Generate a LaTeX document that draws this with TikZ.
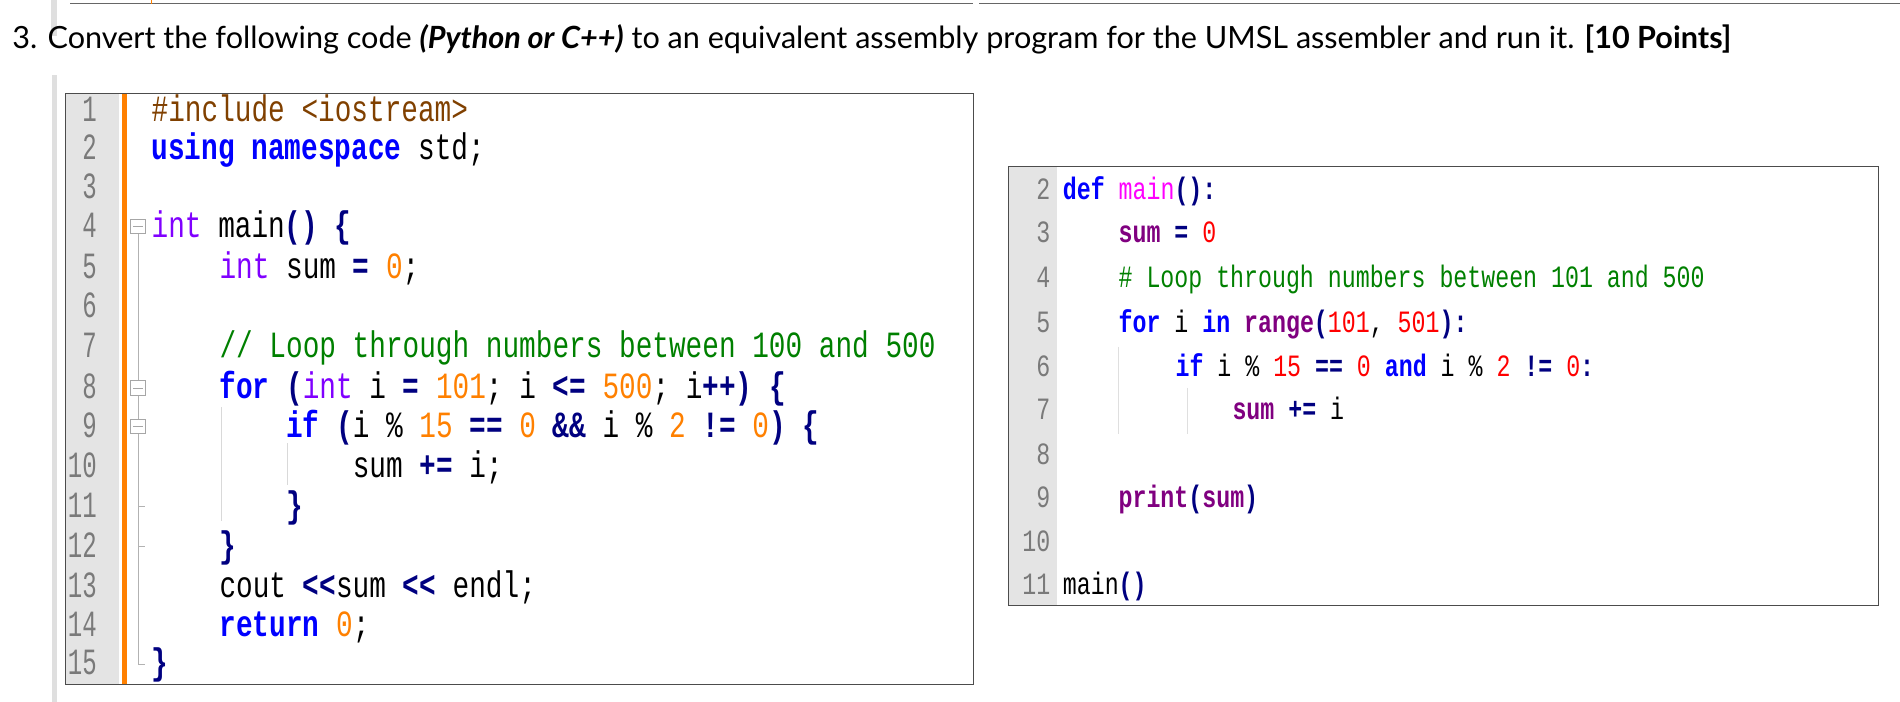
\documentclass[tikz,border=0pt]{standalone}
\usepackage{fontspec}
\setmainfont{Lato}
\newfontfamily\codef[FakeStretch=0.75]{Liberation Mono}
\newfontfamily\numf[FakeStretch=0.65]{Liberation Mono}
\definecolor{kwb}{HTML}{0000FF}
\definecolor{nav}{HTML}{000080}
\definecolor{pur}{HTML}{8000FF}
\definecolor{orn}{HTML}{FF8000}
\definecolor{grn}{HTML}{008000}
\definecolor{brn}{HTML}{804000}
\definecolor{ppur}{HTML}{800080}
\definecolor{mag}{HTML}{FF00FF}
\definecolor{red}{HTML}{FF0000}
\definecolor{gut}{HTML}{E4E4E4}
\definecolor{lnum}{HTML}{7A7A7A}
\newcommand\kw[1]{\textcolor{kwb}{\bfseries #1}}
\newcommand\op[1]{\textcolor{nav}{\bfseries #1}}
\newcommand\ty[1]{\textcolor{pur}{#1}}
\newcommand\nm[1]{\textcolor{orn}{#1}}
\newcommand\pn[1]{\textcolor{red}{#1}}
\newcommand\pp[1]{\textcolor{ppur}{\bfseries #1}}
\tikzset{
  lc/.style={anchor=base west,inner sep=0pt,font=\codef\fontsize{37}{37}\selectfont},
  rc/.style={anchor=base west,inner sep=0pt,font=\codef\fontsize{31}{31}\selectfont},
  ln/.style={anchor=base east,inner sep=0pt,text=lnum,font=\numf\fontsize{37}{37}\selectfont},
  rn/.style={anchor=base east,inner sep=0pt,text=lnum,font=\codef\fontsize{31}{31}\selectfont},
  fold/.style={draw=gray!70,fill=white,line width=0.8pt},
}
\begin{document}
\begin{tikzpicture}[x=1.2117pt,y=-1.2117pt]
\useasboundingbox (0,0) rectangle (1568,579);
% top remnants
\fill[gray!25] (42,0) rectangle (47,30);
\draw[gray!80!black,line width=1.2pt] (58,3) -- (803,3);
\draw[gray!80!black,line width=1.2pt] (808,3) -- (1568,3);
\draw[orange,line width=1.5pt] (125,0) -- (125,3);
% title
\node[anchor=base west,inner sep=0pt,font=\fontsize{30.6}{30.6}\selectfont] (title) at (10,40)
 {3. Convert the following code \textbf{\textit{(Python or C++)}} to an equivalent assembly program for the UMSL assembler and run it. \textbf{[10 Points]}};
\fill[gray!25] (43,62) rectangle (47,579);
% left box
\fill[gut] (54,77) rectangle (98,565);
\fill[orn] (101,77) rectangle (105,565);
\draw[gray!60!black,line width=1pt] (54,77) rectangle (803,565);
\draw[gray!60,line width=0.8pt] (114,193) -- (114,548) -- (120,548);
\draw[gray!60,line width=0.8pt] (114,418) -- (120,418);
\draw[gray!60,line width=0.8pt] (114,451) -- (120,451);
\draw[gray!30,line width=0.8pt] (183,336) -- (183,430);
\draw[gray!30,line width=0.8pt] (237,366) -- (237,400);
\foreach \yy in {187,320,352}{
  \draw[fold] (108,\yy-6) rectangle (120,\yy+6);
  \draw[gray!70] (110,\yy) -- (118,\yy);
}
\foreach \n/\yy in {1/91,2/123,3/155,4/187,5/221,6/253,7/286,8/320,9/352,10/385,11/418,12/451,13/484,14/516,15/548}{
  \node[ln] (l\n) at (80,\yy+9) {\n};
}
\node[lc] (c1) at (125,100) {\textcolor{brn}{\#include <iostream>}};
\node[lc] (c2) at (125,132) {\kw{using} \kw{namespace} std;};
\node[lc] (c4) at (125,196) {\ty{int} main\op{() \{}};
\node[lc] (c5) at (181,230) {\ty{int} sum \op{=} \nm{0};};
\node[lc] (c7) at (181,295) {\textcolor{grn}{// Loop through numbers between 100 and 500}};
\node[lc] (c8) at (181,329) {\kw{for} \op{(}\ty{int} i \op{=} \nm{101}; i \op{<=} \nm{500}; i\op{++) \{}};
\node[lc] (c9) at (236,361) {\kw{if} \op{(}i \% \nm{15} \op{==} \nm{0} \op{\&\&} i \% \nm{2} \op{!=} \nm{0}\op{) \{}};
\node[lc] (c10) at (291,394) {sum \op{+=} i;};
\node[lc] (c11) at (236,427) {\op{\}}};
\node[lc] (c12) at (181,460) {\op{\}}};
\node[lc] (c13) at (181,493) {cout \op{<<}sum \op{<<} endl;};
\node[lc] (c14) at (181,525) {\kw{return} \nm{0};};
\node[lc] (c15) at (125,557) {\op{\}}};
% right box
\fill[gut] (832,137) rectangle (872,500);
\draw[gray!60!black,line width=1pt] (832,137) rectangle (1550,500);
\draw[gray!25,line width=0.8pt] (923,286) -- (923,358);
\draw[gray!25,line width=0.8pt] (980,320) -- (980,358);
\foreach \n/\yy in {2/157,3/192,4/229,5/266,6/303,7/338,8/375,9/411,10/447,11/483}{
  \node[rn] (r\n) at (867,\yy+8) {\n};
}
\node[rc] (p2) at (877,165) {\kw{def} \textcolor{mag}{main}\op{():}};
\node[rc] (p3) at (923,200) {\pp{sum} \op{=} \pn{0}};
\node[rc] (p4) at (923,237) {\textcolor{grn}{\# Loop through numbers between 101 and 500}};
\node[rc] (p5) at (923,274) {\kw{for} i \kw{in} \pp{range}\op{(}\pn{101}, \pn{501}\op{):}};
\node[rc] (p6) at (970,311) {\kw{if} i \% \pn{15} \op{==} \pn{0} \kw{and} i \% \pn{2} \op{!=} \pn{0}\op{:}};
\node[rc] (p7) at (1017,346) {\pp{sum} \op{+=} i};
\node[rc] (p9) at (923,419) {\pp{print}\op{(}\pp{sum}\op{)}};
\node[rc] (p11) at (877,491) {main\op{()}};
\end{tikzpicture}
\end{document}
